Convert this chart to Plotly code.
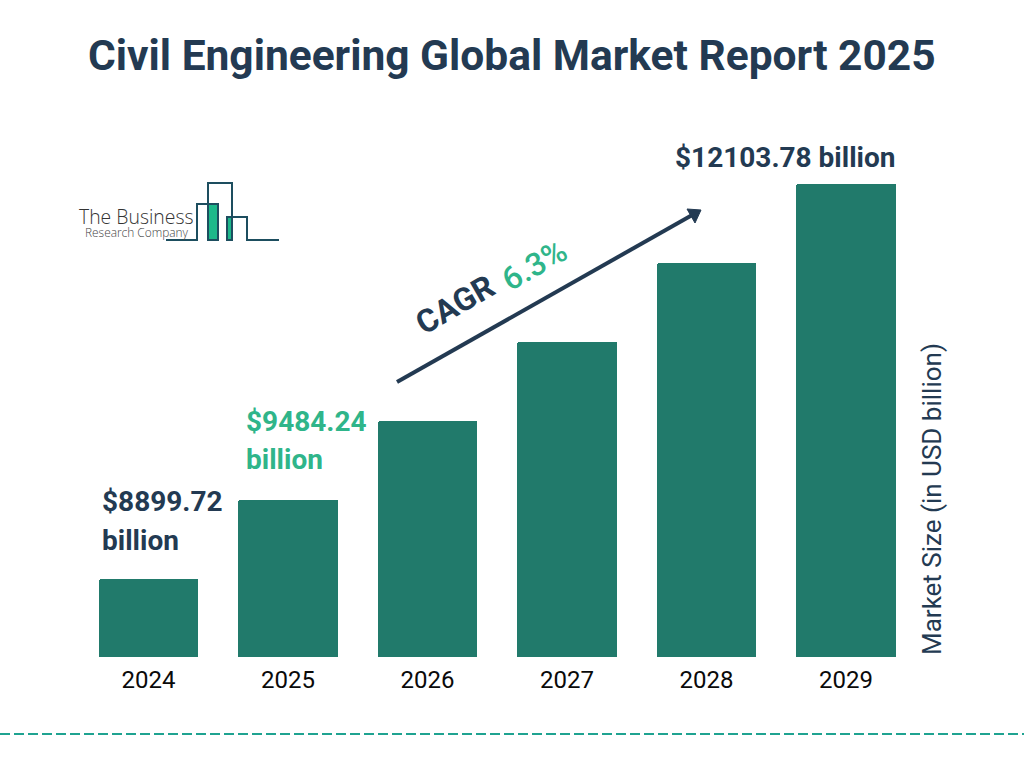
import plotly.graph_objects as go

years = ["2024", "2025", "2026", "2027", "2028", "2029"]
# The picture's bars are schematic; heights are read from the picture, not proportional to the labels
bar_heights = [78, 157, 236, 315, 394, 473]
NAVY = "#233a52"
BAR = "#217a6b"
GREEN = "#2fb58a"
W, H, BOTTOM = 1024, 768, 657
F = "Roboto"

def px(x):
    return x / W

def py(y):
    return (BOTTOM - y) / BOTTOM

fig = go.Figure(go.Bar(x=list(range(6)), y=bar_heights, width=0.71,
                       marker=dict(color=BAR, cornerradius=2, line=dict(width=0))))

def text(x, y, s, size, color=NAVY, angle=0, bold=True, anchor="center", family=F, weight=None):
    t = f"<b>{s}</b>" if bold else s
    font = dict(family=family, size=size, color=color)
    if weight:
        font["weight"] = weight
    fig.add_annotation(x=px(x), y=py(y), xref="paper", yref="paper", text=t, showarrow=False,
                       font=font, textangle=angle,
                       xanchor=anchor, yanchor="middle", align="center")

def segment(points, color, width, fill=None, dash=None, closed=False):
    path = "M" + " L".join(f"{px(x)},{py(y)}" for x, y in points) + (" Z" if closed else "")
    fig.add_shape(type="path", xref="paper", yref="paper", path=path,
                  line=dict(color=color, width=width, dash=dash), fillcolor=fill, layer="above")

text(512, 55, "Civil Engineering Global Market Report 2025", 42.5)
text(100, 501, "$8899.72", 28, anchor="left")
text(100, 540, "billion", 28, anchor="left")
text(244, 421, "$9484.24", 28, GREEN, anchor="left")
text(244, 459, "billion", 28, GREEN, anchor="left")
text(785.5, 157.5, "$12103.78 billion", 28)
text(932, 499, "Market Size (in USD billion)", 26, angle=-90, bold=False)
text(454.5, 305, "CAGR", 32, angle=-30)
text(534.5, 265, "6.3%", 32, GREEN, angle=-30, bold=False, weight=500)

# growth arrow
segment([(397, 382), (694, 214)], NAVY, 4)
segment([(701, 210), (687, 209), (695, 223)], NAVY, 1, fill=NAVY, closed=True)

# logo
LOGO = "#1d4e5f"
segment([(208, 204), (218, 204), (218, 240), (208, 240)], "#1db88a", 0, fill="#1db88a", closed=True)
segment([(227, 217), (232, 217), (232, 240), (227, 240)], "#1db88a", 0, fill="#1db88a", closed=True)
segment([(166, 240), (197, 240), (197, 204), (218, 204), (218, 240), (208, 240), (208, 183),
         (232, 183), (232, 240), (227, 240), (227, 217), (247, 217), (247, 240), (279, 240)], LOGO, 2)
text(136, 216, "The Business", 19.4, "#333333", bold=False, family="Open Sans", weight=300)
text(136.5, 232, "Research Company", 11.9, "#444444", bold=False, family="Open Sans", weight=300)

# dashed rule
segment([(0, 734), (1024, 734)], "#1fa391", 2, dash="10px,4px")

fig.update_layout(
    width=W, height=H, margin=dict(l=0, r=0, t=0, b=H - BOTTOM, pad=0),
    paper_bgcolor="white", plot_bgcolor="white", showlegend=False, bargap=0,
    xaxis=dict(range=[-148.5 / 139.5, (W - 148.5) / 139.5], tickvals=list(range(6)), ticktext=years,
               tickfont=dict(family=F, size=24, color="#0a0a0a"), showgrid=False, zeroline=False,
               showline=False, ticks="", ticklabelstandoff=6),
    yaxis=dict(range=[0, BOTTOM], visible=False),
)
fig.write_html("out.html", config=dict(displayModeBar=False),
               post_script="document.body.style.margin='0';document.body.style.overflow='hidden';")
